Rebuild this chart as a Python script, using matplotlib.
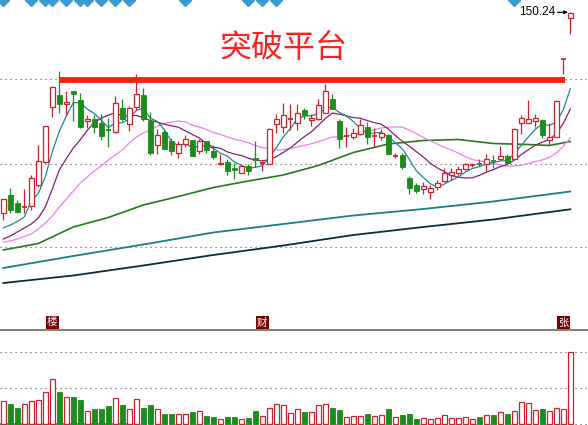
import numpy as np
import pandas as pd
import matplotlib
matplotlib.use("Agg")
import matplotlib.pyplot as plt
from matplotlib.patches import Rectangle

# ---------- data ----------
opens = [110.10, 113.70, 112.10, 111.30, 111.60, 115.70, 120.30, 131.40, 133.70, 131.80,
         134.50, 132.70, 128.60, 128.90, 128.20, 126.80, 126.40, 131.20, 128.00, 131.40,
         133.70, 128.60, 123.70, 126.20, 124.50, 122.20, 123.90, 124.70, 122.60, 124.50,
         122.50, 119.90, 120.20, 119.10, 118.20, 119.50, 121.10, 120.00, 120.00, 128.00,
         127.40, 128.90, 128.20, 130.70, 128.70, 129.00, 130.20, 133.00, 128.50, 125.40,
         125.40, 125.90, 127.30, 125.50, 125.40, 125.70, 121.50, 121.70, 117.00, 115.70,
         115.00, 114.40, 115.40, 116.60, 117.80, 118.20, 119.00, 119.70, 120.00, 119.90,
         120.60, 121.00, 121.50, 121.00, 128.20, 128.20, 128.60, 128.70, 124.80, 125.40,
         140.90, 149.20]
highs = [112.90, 115.10, 112.70, 114.90, 117.70, 123.70, 127.50, 135.50, 138.50, 134.50,
         134.60, 134.10, 129.70, 129.70, 129.90, 129.20, 133.50, 133.00, 131.50, 137.90,
         135.10, 130.40, 127.00, 126.70, 125.20, 124.50, 125.70, 124.80, 125.00, 124.60,
         123.70, 122.00, 120.90, 120.20, 119.50, 119.90, 124.50, 120.80, 127.10, 129.90,
         132.10, 131.90, 131.90, 131.20, 130.00, 133.00, 135.90, 134.00, 128.90, 127.30,
         127.20, 129.00, 128.40, 127.20, 127.00, 125.90, 122.20, 122.20, 117.50, 116.20,
         116.40, 115.80, 116.70, 119.20, 119.20, 119.50, 120.20, 120.20, 121.00, 122.00,
         121.70, 123.50, 122.00, 127.10, 129.70, 132.70, 130.00, 129.00, 128.20, 132.70,
         141.00, 150.24]
lows = [108.70, 110.10, 110.10, 110.10, 110.70, 115.30, 120.20, 129.30, 130.10, 129.70,
        128.60, 127.10, 127.10, 126.10, 124.70, 123.40, 126.20, 128.50, 126.50, 130.70,
        128.60, 121.80, 122.00, 122.90, 121.80, 121.20, 123.40, 121.50, 122.00, 122.20,
        120.90, 119.70, 117.70, 117.00, 118.10, 117.70, 119.40, 118.50, 119.90, 126.20,
        126.20, 126.70, 126.80, 129.00, 127.60, 128.70, 130.10, 130.80, 123.20, 123.40,
        124.90, 125.80, 123.90, 123.40, 124.70, 121.80, 121.20, 118.90, 114.00, 114.20,
        114.00, 112.90, 114.70, 116.40, 116.80, 117.70, 118.70, 119.30, 119.60, 118.60,
        119.20, 120.80, 120.00, 120.90, 126.00, 128.10, 127.40, 125.20, 123.70, 125.30,
        138.00, 146.00]
closes = [112.80, 110.70, 110.30, 111.50, 117.00, 120.50, 127.40, 135.40, 131.80, 132.30,
          134.00, 127.40, 128.90, 127.40, 125.60, 126.60, 132.20, 129.00, 131.20, 134.00,
          128.90, 122.20, 125.80, 123.00, 122.50, 123.90, 124.90, 121.60, 124.50, 122.80,
          121.40, 120.20, 118.50, 118.70, 119.50, 118.60, 120.80, 120.20, 127.00, 128.90,
          129.70, 129.00, 130.20, 129.70, 129.20, 131.70, 134.40, 131.00, 124.90, 125.50,
          126.20, 127.80, 125.40, 125.60, 126.10, 122.00, 121.60, 119.40, 115.10, 114.60,
          115.40, 115.20, 116.20, 118.00, 118.30, 118.90, 119.90, 119.90, 119.80, 121.00,
          120.40, 121.50, 120.20, 127.00, 129.00, 128.80, 129.20, 125.70, 125.20, 132.60,
          141.00, 150.20]
volumes = [22.3, 19.3, 15.7, 20.0, 22.3, 23.3, 31.3, 44.3, 31.7, 26.3,
           26.3, 23.7, 12.3, 14.7, 14.7, 17.7, 25.3, 18.3, 14.3, 24.3,
           15.3, 18.3, 14.3, 9.3, 9.3, 9.3, 10.0, 11.3, 12.3, 7.3,
           6.3, 5.0, 6.3, 6.3, 5.0, 5.3, 12.3, 7.3, 15.3, 20.0,
           18.3, 11.0, 14.3, 11.3, 11.3, 19.0, 20.0, 15.3, 13.3, 7.0,
           8.0, 8.0, 9.3, 8.0, 9.0, 14.3, 7.0, 8.3, 10.0, 4.3,
           6.0, 5.0, 6.0, 9.0, 6.0, 6.0, 7.0, 5.0, 6.3, 9.0,
           8.3, 12.0, 9.3, 13.0, 22.0, 21.0, 14.0, 14.3, 13.0, 16.0,
           15.0, 71.7]

# first values of the short averages (history before the window is off-chart)
ma5_head = [107.10, 107.70, 108.40, 109.30]
ma10_head = [104.90, 105.50, 106.30, 107.10, 107.90, 109.10, 111.30, 114.90, 118.70]
ma20_head = [104.30, 104.50, 104.90, 105.40, 105.90, 106.90, 108.10, 109.50, 111.30, 112.90,
             114.50, 116.10, 117.30, 118.50, 119.50, 120.70, 121.70, 122.70, 124.10]

# long averages read at a few bars
ma60_idx = [0, 5, 10, 15, 20, 25, 30, 35, 40, 45, 50, 55, 60, 65, 70, 75, 78, 81]
ma60_val = [102.70, 104.00, 107.30, 109.20, 111.70, 113.40, 115.20, 116.50, 117.70, 119.60,
            122.20, 123.90, 124.60, 124.80, 124.00, 123.80, 123.60, 124.40]
long_idx = [0, 10, 20, 30, 40, 50, 60, 70, 81]
ma120_val = [99.10, 101.50, 103.80, 106.20, 107.90, 109.60, 110.90, 112.40, 114.40]
ma250_val = [96.10, 97.60, 99.60, 101.70, 103.60, 105.70, 107.30, 108.80, 110.84]

grid_prices = [136.8, 120.0, 103.4]
platform_price = 136.7
signal_bars = [0, 4, 6, 7, 9, 11, 12, 14, 16, 18, 26, 35, 37, 39, 73]
tag_bars = [7, 37, 80]
tag_texts = ["楼", "财", "张"]

RED = "#d0222c"
GREEN = "#1c8c1c"

n = len(closes)
idx = np.arange(n)
close_s = pd.Series(closes)
ma5 = close_s.rolling(5).mean().to_numpy()
ma10 = close_s.rolling(10).mean().to_numpy()
ma20 = close_s.rolling(20).mean().to_numpy()
ma5[:len(ma5_head)] = ma5_head
ma10[:len(ma10_head)] = ma10_head
ma20[:len(ma20_head)] = ma20_head

plt.rcParams['font.family'] = ['Noto Sans CJK SC', 'DejaVu Sans']

fig = plt.figure(figsize=(5.88, 4.25), dpi=100)
ax = fig.add_axes([0, 95 / 425, 1, 330 / 425])
axv = fig.add_axes([0, 0, 1, 95 / 425])

for a in (ax, axv):
    a.set_xlim(-0.47, 83.53)
    a.set_xticks([])
    a.set_yticks([])
    for s in a.spines.values():
        s.set_visible(False)
ax.set_ylim(86.7, 152.7)
axv.set_ylim(-1.5, 93.5)
axv.spines['top'].set_visible(True)
axv.spines['top'].set_color('#6a6a6a')
axv.spines['top'].set_linewidth(1.2)

# dotted grid
for g in grid_prices:
    ax.axhline(g, color='#555555', lw=0.8, linestyle=(0, (1, 3.5)), zorder=1)
vmax = max(volumes)
for g in [0, vmax / 2, vmax]:
    axv.axhline(g, color='#555555', lw=0.8, linestyle=(0, (1, 3.5)), zorder=1)
axv.axhline(-0.5, xmin=0, xmax=133 / 588, color='#6a6a6a', lw=1.2)

# moving averages
ax.plot(long_idx, ma250_val, color='#0c2c3a', lw=1.3, zorder=2)
ax.plot(long_idx, ma120_val, color='#1a7f88', lw=1.3, zorder=2)
ax.plot(ma60_idx, ma60_val, color='#257a1e', lw=1.2, zorder=2)
ax.plot(idx, ma20, color='#f27ef2', lw=0.9, zorder=2)
ax.plot(idx, ma10, color='#8a1f6e', lw=0.9, zorder=2)
ax.plot(idx, ma5, color='#1f8a8c', lw=0.9, zorder=2)

# candles
w = 0.66
for i in range(n):
    o, h, l, c = opens[i], highs[i], lows[i], closes[i]
    up = c >= o
    col = RED if up else GREEN
    top, bot = max(o, c), min(o, c)
    if top - bot < 0.25:
        # doji: a cross
        ax.vlines(i, l, h, color=col, lw=0.9, zorder=3)
        ax.hlines((o + c) / 2, i - w / 2, i + w / 2, color=col, lw=1.3, zorder=3)
        continue
    if up:
        ax.vlines(i, top, h, color=col, lw=0.9, zorder=3)
        ax.vlines(i, l, bot, color=col, lw=0.9, zorder=3)
        ax.add_patch(Rectangle((i - w / 2, bot), w, top - bot, facecolor='white',
                               edgecolor=col, lw=0.9, zorder=3))
    else:
        ax.vlines(i, l, h, color=col, lw=0.9, zorder=3)
        ax.add_patch(Rectangle((i - w / 2, bot), w, top - bot, facecolor=col,
                               edgecolor=col, lw=0.6, zorder=3))

# volume bars
for i in range(n):
    if closes[i] >= opens[i]:
        axv.add_patch(Rectangle((i - w / 2, 0), w, volumes[i], facecolor='white',
                                edgecolor=RED, lw=0.9, zorder=3))
    else:
        axv.add_patch(Rectangle((i - w / 2, 0), w, volumes[i], facecolor=GREEN,
                                edgecolor=GREEN, lw=0.6, zorder=3))

# platform line and title
ax.plot([8, 80.2], [platform_price, platform_price], color='#ff2010', lw=4.2,
        solid_capstyle='butt', zorder=5)
fig.text(283 / 588, 1 - 48 / 425, "突破平台", color='#ff2020', fontsize=23,
         ha='center', va='center')

# signal markers at top
ax.plot(signal_bars, [152.7] * len(signal_bars), 'D', color='#3a9bd0', ms=6.5,
        mec='#3a9bd0', zorder=4, clip_on=True)

# tags
for b, t in zip(tag_bars, tag_texts):
    ax.text(b, 88.2, t, color='white', fontsize=7.5, ha='center', va='center',
            bbox=dict(boxstyle='square,pad=0.12', fc='#7a0000', ec='none'), zorder=6)

# last high label
ax.annotate(f"{highs[-1]:.2f}", xy=(n - 1 - 0.33, highs[-1]), xytext=(-13, 0),
            textcoords='offset pixels', ha='right', va='center', fontsize=8.5,
            family='Liberation Sans', color='black',
            arrowprops=dict(arrowstyle='-|>', color='black', lw=0.9,
                            mutation_scale=5, shrinkA=0, shrinkB=0))

fig.savefig("out.png", dpi=100)
